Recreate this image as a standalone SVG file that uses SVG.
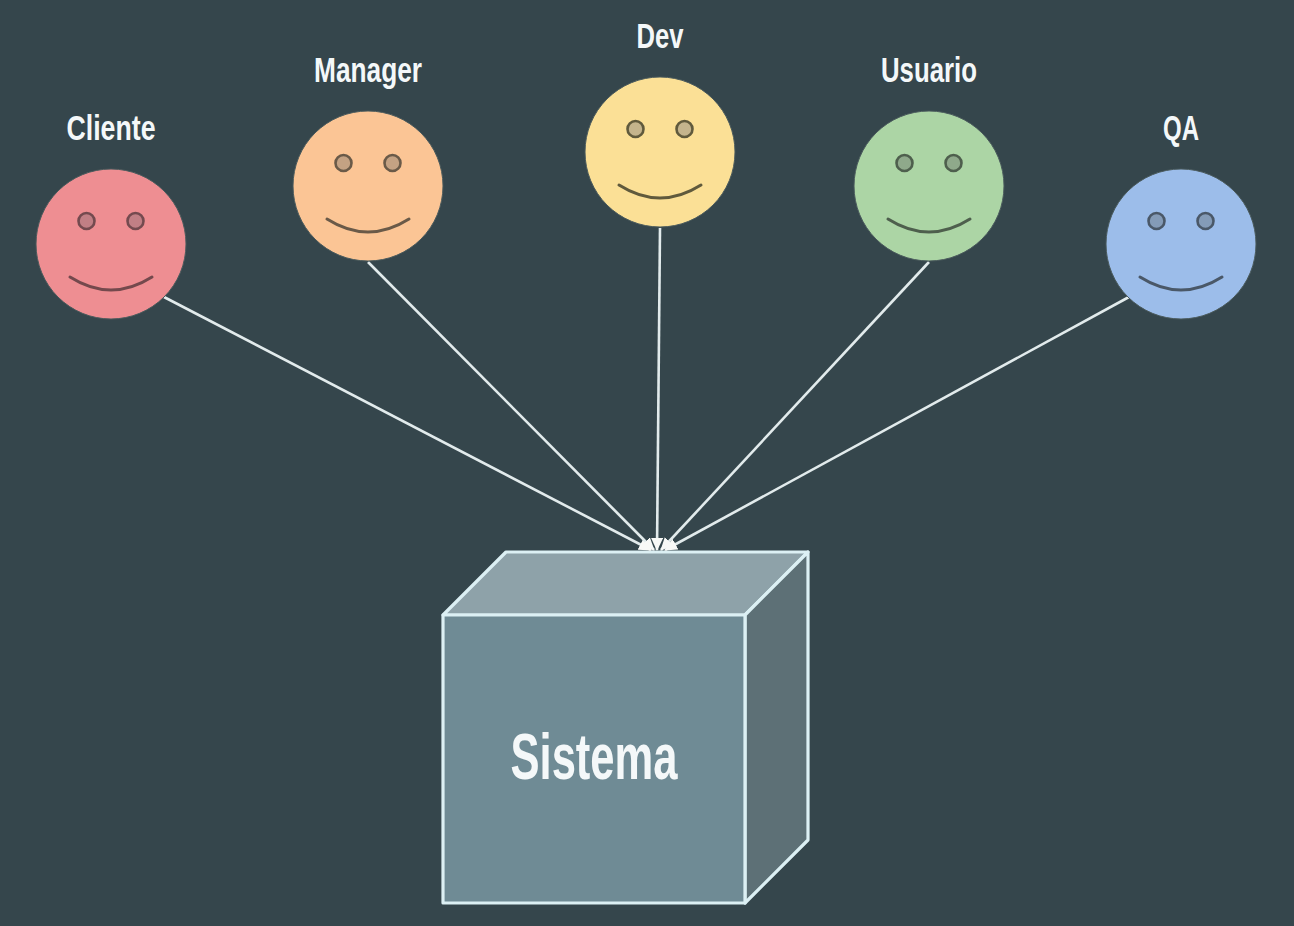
<svg xmlns="http://www.w3.org/2000/svg" width="1294" height="926" viewBox="0 0 1294 926">
<style>
.lbl{font-family:"Liberation Sans",Arial,sans-serif;font-weight:700;font-size:35px;fill:#f4f8f9;text-anchor:middle}
.head{stroke:#4a5a5c;stroke-width:1}
.eye{stroke-width:2.6}
.smile{fill:none;stroke-width:3;stroke-linecap:round}
.conn{stroke:#e2ebec;stroke-width:2.6;fill:none}
.edge{stroke:#dcf0f4;stroke-width:3.2;stroke-linejoin:round}
</style>
<defs>
<marker id="arr" markerWidth="13" markerHeight="12" refX="12" refY="6" orient="auto" markerUnits="userSpaceOnUse"><path d="M0 0L13 6L0 12Z" fill="#f8f9f7"/></marker>
<g id="eyes">
<circle class="eye" cx="-24.500" cy="-23" r="8"/>
<circle class="eye" cx="24.500" cy="-23" r="8"/>
</g>
<path id="smile" class="smile" d="M-41 33Q0 59 41 33"/>
</defs>
<rect width="1294" height="926" fill="#35464c"/>
<g id="sistema">
<path d="M443 615L506 552H808L745 615Z" fill="#8ea2a9" class="edge"/>
<path d="M745 615L808 552V840L745 903Z" fill="#5d7076" class="edge"/>
<rect x="443" y="615" width="302" height="288" fill="#6f8b95" class="edge"/>
<text class="lbl" x="594" y="779" style="font-size:64px" textLength="167" lengthAdjust="spacingAndGlyphs">Sistema</text>
</g>
<g id="connectors">
<path class="conn" marker-end="url(#arr)" d="M164 297L651 550"/>
<path class="conn" marker-end="url(#arr)" d="M368 262L654 550"/>
<path class="conn" marker-end="url(#arr)" d="M660 228L657 550"/>
<path class="conn" marker-end="url(#arr)" d="M929 262L661 550"/>
<path class="conn" marker-end="url(#arr)" d="M1129 297L665 550"/>
</g>
<g id="cliente">
<circle class="head" cx="111" cy="244" r="75" fill="#ee8e92"/>
<use href="#eyes" x="111" y="244" fill="#c17f85" stroke="#744a4f"/>
<use href="#smile" x="111" y="244" stroke="#74494d"/>
<text class="lbl" x="111" y="140" textLength="89" lengthAdjust="spacingAndGlyphs">Cliente</text>
</g>
<g id="manager">
<circle class="head" cx="368" cy="186" r="75" fill="#fbc595"/>
<use href="#eyes" x="368" y="186" fill="#c4a283" stroke="#6a5a48"/>
<use href="#smile" x="368" y="186" stroke="#6a5a48"/>
<text class="lbl" x="368" y="82" textLength="108" lengthAdjust="spacingAndGlyphs">Manager</text>
</g>
<g id="dev">
<circle class="head" cx="660" cy="152" r="75" fill="#fbe096"/>
<use href="#eyes" x="660" y="152" fill="#c4b48c" stroke="#605a3c"/>
<use href="#smile" x="660" y="152" stroke="#605a3c"/>
<text class="lbl" x="660" y="48" textLength="47" lengthAdjust="spacingAndGlyphs">Dev</text>
</g>
<g id="usuario">
<circle class="head" cx="929" cy="186" r="75" fill="#acd5a5"/>
<use href="#eyes" x="929" y="186" fill="#8fa98b" stroke="#4e5f4d"/>
<use href="#smile" x="929" y="186" stroke="#4e5f4d"/>
<text class="lbl" x="929" y="82" textLength="96" lengthAdjust="spacingAndGlyphs">Usuario</text>
</g>
<g id="qa">
<circle class="head" cx="1181" cy="244" r="75" fill="#9cbdea"/>
<use href="#eyes" x="1181" y="244" fill="#849bb7" stroke="#4a5868"/>
<use href="#smile" x="1181" y="244" stroke="#4a5868"/>
<text class="lbl" x="1181" y="140" textLength="36" lengthAdjust="spacingAndGlyphs">QA</text>
</g>
</svg>
